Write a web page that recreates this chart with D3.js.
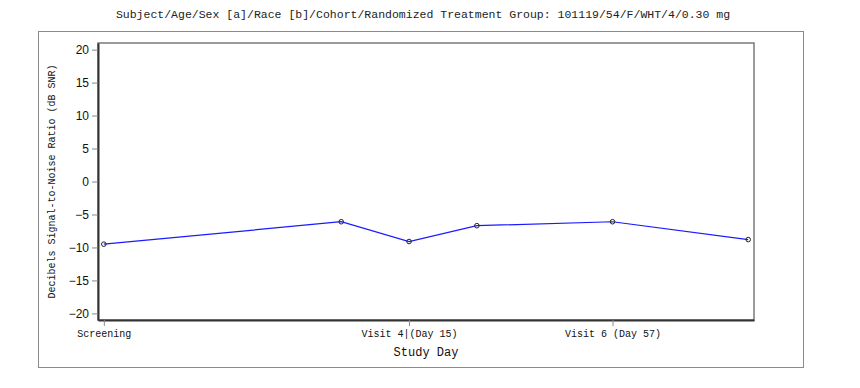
<!DOCTYPE html>
<html>
<head>
<meta charset="utf-8">
<script src="https://cdn.jsdelivr.net/npm/d3@7"></script>
<style>
body { margin: 0; background: #fff; }
</style>
</head>
<body>
<svg id="chart" width="860" height="388"></svg>
<script>
// study day of each assessment and its SNR value
var studyDays = [-48, 1, 15, 29, 57, 85];
var snrValues = [-9.5, -6.1, -9.1, -6.7, -6.1, -8.8];
var tickDays = [-48, 15, 57];
var tickLabels = ["Screening", "Visit 4|(Day 15)", "Visit 6 (Day 57)"];
var yTicks = [-20, -15, -10, -5, 0, 5, 10, 15, 20];

var data = studyDays.map(function(d, i) { return {day: d, snr: snrValues[i]}; });

var svg = d3.select("#chart"),
		margin = {top: 43, right: 106, bottom: 68, left: 98},
		width = +svg.attr("width") - margin.left - margin.right,
		height = +svg.attr("height") - margin.top - margin.bottom;

var mono = "'Liberation Mono', 'DejaVu Sans Mono', monospace";

// outer border
svg.append("rect")
		.attr("x", 38.5).attr("y", 31.5)
		.attr("width", 765).attr("height", 336)
		.attr("fill", "none")
		.attr("stroke", "#8a8a8a");

svg.append("text")
		.attr("x", 423).attr("y", 18)
		.attr("text-anchor", "middle")
		.style("font", "11.5px " + mono)
		.attr("fill", "#222")
		.text("Subject/Age/Sex [a]/Race [b]/Cohort/Randomized Treatment Group: 101119/54/F/WHT/4/0.30 mg");

var g = svg.append("g").attr("transform", "translate(" + margin.left + "," + margin.top + ")");

var x = d3.scaleLinear().domain([-49.2, 86.2]).range([0, width]);
var y = d3.scaleLinear().domain([-21, 21]).range([height, 0]);

// frame
g.append("rect")
		.attr("width", width).attr("height", height)
		.attr("fill", "none")
		.attr("stroke", "#7a7a7a")
		.attr("stroke-width", 1.5);

var yAxis = g.append("g")
		.call(d3.axisLeft(y).tickValues(yTicks).tickSize(6).tickSizeOuter(0).tickPadding(3));
yAxis.select(".domain").attr("stroke", "#333").attr("stroke-width", 2);
yAxis.selectAll(".tick line").attr("stroke", "#888");
yAxis.selectAll(".tick text")
		.style("font", "12px 'Liberation Sans', Arial, sans-serif")
		.attr("fill", "#111");

var xAxis = g.append("g")
		.attr("transform", "translate(0," + height + ")")
		.call(d3.axisBottom(x).tickValues(tickDays)
			.tickFormat(function(d, i) { return tickLabels[i]; })
			.tickSize(6).tickSizeOuter(0).tickPadding(4));
xAxis.select(".domain").attr("stroke", "#333").attr("stroke-width", 2);
xAxis.selectAll(".tick line").attr("stroke", "#888");
xAxis.selectAll(".tick text")
		.style("font", "10px " + mono)
		.attr("fill", "#111");

g.append("text")
		.attr("x", width / 2).attr("y", height + 36)
		.attr("text-anchor", "middle")
		.style("font", "12px " + mono)
		.attr("fill", "#111")
		.text("Study Day");

g.append("text")
		.attr("transform", "rotate(-90)")
		.attr("x", -height / 2).attr("y", -43)
		.attr("text-anchor", "middle")
		.style("font", "10px " + mono)
		.attr("fill", "#111")
		.text("Decibels Signal-to-Noise Ratio (dB SNR)");

var line = d3.line()
		.x(function(d) { return x(d.day); })
		.y(function(d) { return y(d.snr); });

g.append("path")
		.datum(data)
		.attr("d", line)
		.attr("fill", "none")
		.attr("stroke", "#1a1aff")
		.attr("stroke-width", 1.2);

g.selectAll(".pt")
		.data(data)
		.enter().append("circle")
			.attr("class", "pt")
			.attr("cx", function(d) { return x(d.day); })
			.attr("cy", function(d) { return y(d.snr); })
			.attr("r", 2.3)
			.attr("fill", "none")
			.attr("stroke", "#222")
			.attr("stroke-width", 1);
</script>
</body>
</html>
